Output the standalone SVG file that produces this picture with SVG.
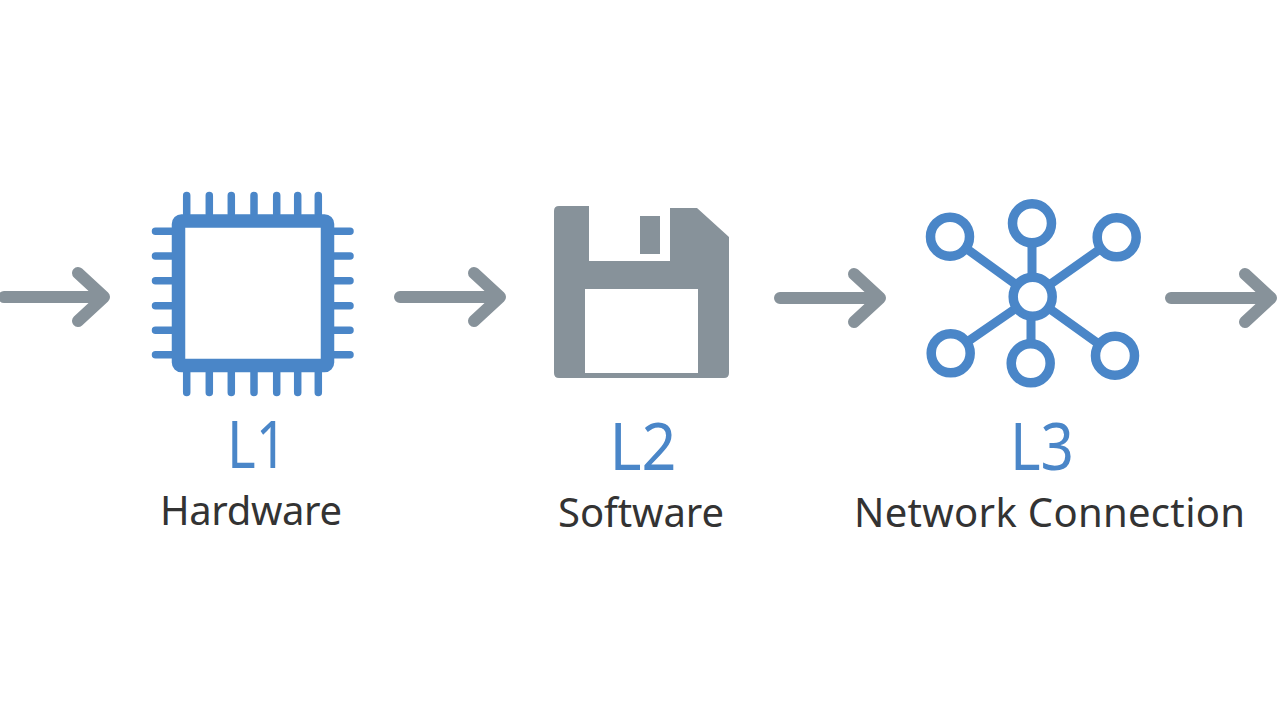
<svg xmlns="http://www.w3.org/2000/svg" width="1280" height="720" viewBox="0 0 1280 720">
<defs>
<style>
.arrow{fill:none;stroke:#87929a;stroke-width:12;stroke-linecap:round;stroke-linejoin:round}
.pin{stroke:#4a86c8;stroke-width:7.500;stroke-linecap:round;fill:none}
.blue{fill:none;stroke:#4a86c8}
.level{font-family:"Noto Sans","Open Sans",sans-serif;font-size:66px;font-weight:400;fill:#4a86c8;text-anchor:middle}
.name{font-family:"Noto Sans","Open Sans",sans-serif;font-size:40px;fill:#333;text-anchor:middle}
.ring{fill:#fff;stroke:#4a86c8;stroke-width:9.500}
.link{stroke:#4a86c8;stroke-width:9;fill:none}
</style>
<path id="a" d="M0 0H100M74 -24L100 0L74 24"/>
</defs>
<rect width="1280" height="720" fill="#fff"/>
<g id="connectors" class="arrow">
<use href="#a" x="4" y="297"/>
<use href="#a" x="400" y="297"/>
<use href="#a" x="780" y="298"/>
<use href="#a" x="1171" y="298"/>
</g>
<g id="L1-hardware">
<path class="pin" d="M186.700 195.500V214M209.300 195.500V214M231.300 195.500V214M254 195.500V214M276.700 195.500V214M297.700 195.500V214M318.300 195.500V214M186.700 372V392.500M209.300 372V392.500M231.300 372V392.500M254 372V392.500M276.700 372V392.500M297.700 372V392.500M318.300 372V392.500M155.500 231.300H172M155.500 256H172M155.500 280.700H172M155.500 305.700H172M155.500 330.300H172M155.500 354.700H172M334 231.300H350M334 256H350M334 280.700H350M334 305.700H350M334 330.300H350M334 354.700H350"/>
<rect class="blue" x="178.500" y="221" width="149" height="144.500" rx="3" stroke-width="13.500"/>
<text class="level" x="257" y="468" textLength="60" lengthAdjust="spacingAndGlyphs">L1</text>
<text class="name" x="251" y="525" textLength="182">Hardware</text>
</g>
<g id="L2-software">
<path fill="#87929a" d="M559 206H589V261H670V208H697L729 237V373Q729 378 724 378H559Q554 378 554 373V211Q554 206 559 206Z"/>
<rect x="640" y="216" width="20" height="38" fill="#87929a"/>
<rect x="585" y="289" width="113" height="84" fill="#fff"/>
<text class="level" x="643" y="470" textLength="67" lengthAdjust="spacingAndGlyphs">L2</text>
<text class="name" x="641" y="527" textLength="166">Software</text>
</g>
<g id="L3-network">
<path class="link" d="M1032.700 296.700L950 236.700M1032.700 296.700L1116.700 237.300M1032 296.700V223.300M1032.700 296.700L950.700 353.300M1031 296.700V363.300M1032.700 296.700L1115 355.700"/>
<circle class="ring" cx="950" cy="236.700" r="19.500"/>
<circle class="ring" cx="1032" cy="223.300" r="19.500"/>
<circle class="ring" cx="1116.700" cy="237.300" r="19.500"/>
<circle class="ring" cx="1032.700" cy="296.700" r="19.500"/>
<circle class="ring" cx="950.700" cy="353.300" r="19.500"/>
<circle class="ring" cx="1030.700" cy="363.300" r="19.500"/>
<circle class="ring" cx="1115" cy="355.700" r="19.500"/>
<text class="level" x="1042" y="470" textLength="64" lengthAdjust="spacingAndGlyphs">L3</text>
<text class="name" x="1049.500" y="527" textLength="391">Network Connection</text>
</g>
</svg>
